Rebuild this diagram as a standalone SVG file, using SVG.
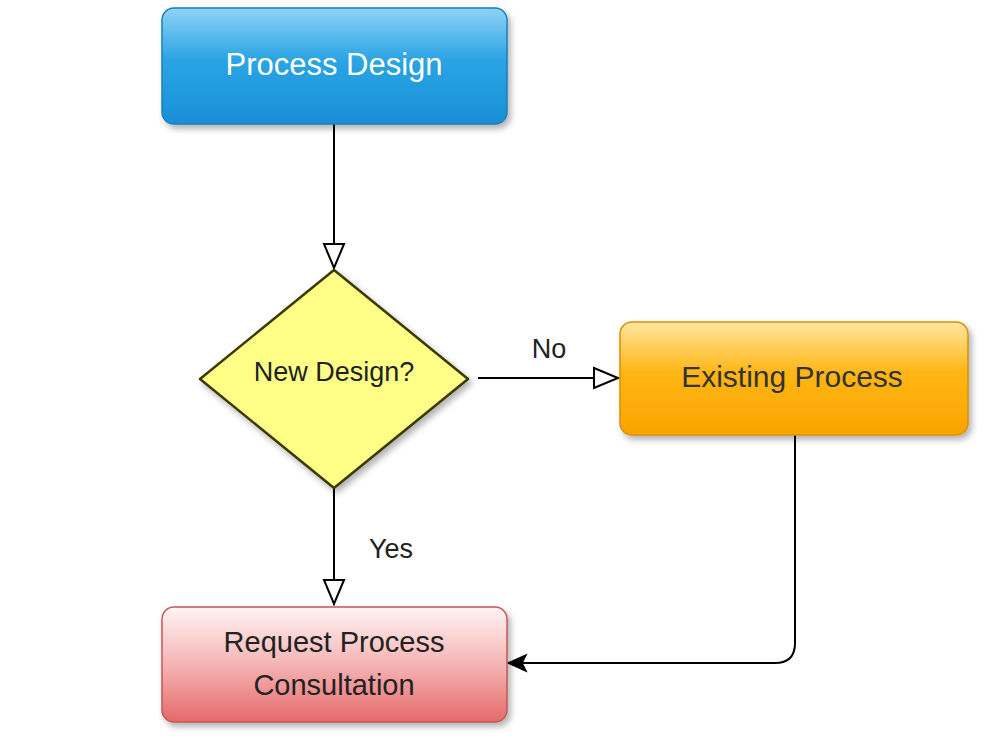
<svg xmlns="http://www.w3.org/2000/svg" width="1000" height="750" viewBox="0 0 1000 750">
<defs>
<linearGradient id="gb" x1="0" y1="0" x2="0" y2="1"><stop offset="0" stop-color="#8fd3f7"/><stop offset="0.45" stop-color="#2aa4e4"/><stop offset="1" stop-color="#1b8fd6"/></linearGradient>
<linearGradient id="go" x1="0" y1="0" x2="0" y2="1"><stop offset="0" stop-color="#ffe5a0"/><stop offset="0.45" stop-color="#ffb614"/><stop offset="1" stop-color="#f9a400"/></linearGradient>
<linearGradient id="gr" x1="0" y1="0" x2="0" y2="1"><stop offset="0" stop-color="#fff4f4"/><stop offset="0.5" stop-color="#f6b4b4"/><stop offset="1" stop-color="#e46a6a"/></linearGradient>
<filter id="sh" x="-10%" y="-10%" width="130%" height="140%"><feDropShadow dx="3" dy="4" stdDeviation="3" flood-color="#000" flood-opacity="0.3"/></filter>
<marker id="open" markerWidth="30" markerHeight="30" refX="26" refY="12" orient="auto" markerUnits="userSpaceOnUse"><path d="M2,2 L26,12 L2,22 Z" fill="#fff" stroke="#000" stroke-width="2"/></marker>
<marker id="cls" markerWidth="24" markerHeight="24" refX="20" refY="10" orient="auto" markerUnits="userSpaceOnUse"><path d="M2,2 L20,10 L2,18 L6,10 Z" fill="#000" stroke="#000" stroke-width="1.5"/></marker>
<style>
text{font-family:"Liberation Sans",Arial,sans-serif;text-anchor:middle}
.lbl{font-size:27px;fill:#222}
.c{fill:none;stroke:#000;stroke-width:2}
</style>
</defs>
<g id="connectors">
<path class="c" d="M334,124 V268" marker-end="url(#open)"/>
<path class="c" d="M478,378 H618" marker-end="url(#open)"/>
<path class="c" d="M334,488 V604" marker-end="url(#open)"/>
<path class="c" d="M795,435 V643 Q795,663 775,663 H508" marker-end="url(#cls)"/>
<text class="lbl" x="549" y="358">No</text>
<text class="lbl" x="391" y="558">Yes</text>
</g>
<g id="process-design"><rect x="162" y="8" width="345" height="116" rx="12" fill="url(#gb)" stroke="#1a7fbf" stroke-width="1.5" filter="url(#sh)"/><text x="334" y="75" font-size="31" fill="#fff">Process Design</text></g>
<g id="new-design"><path d="M334,270 L468,379 L334,488 L200,379 Z" fill="#ffff88" stroke="#3a3a00" stroke-width="2.5" stroke-linejoin="round" filter="url(#sh)"/><text class="lbl" x="334" y="381">New Design?</text></g>
<g id="existing-process"><rect x="620" y="322" width="348" height="113" rx="12" fill="url(#go)" stroke="#d99000" stroke-width="1.5" filter="url(#sh)"/><text x="792" y="387" font-size="30" fill="#333">Existing Process</text></g>
<g id="request"><rect x="162" y="607" width="345" height="115" rx="12" fill="url(#gr)" stroke="#c65656" stroke-width="1.5" filter="url(#sh)"/><text x="334" y="652" font-size="29" fill="#222">Request Process</text><text x="334" y="695" font-size="29" fill="#222">Consultation</text></g>
</svg>
